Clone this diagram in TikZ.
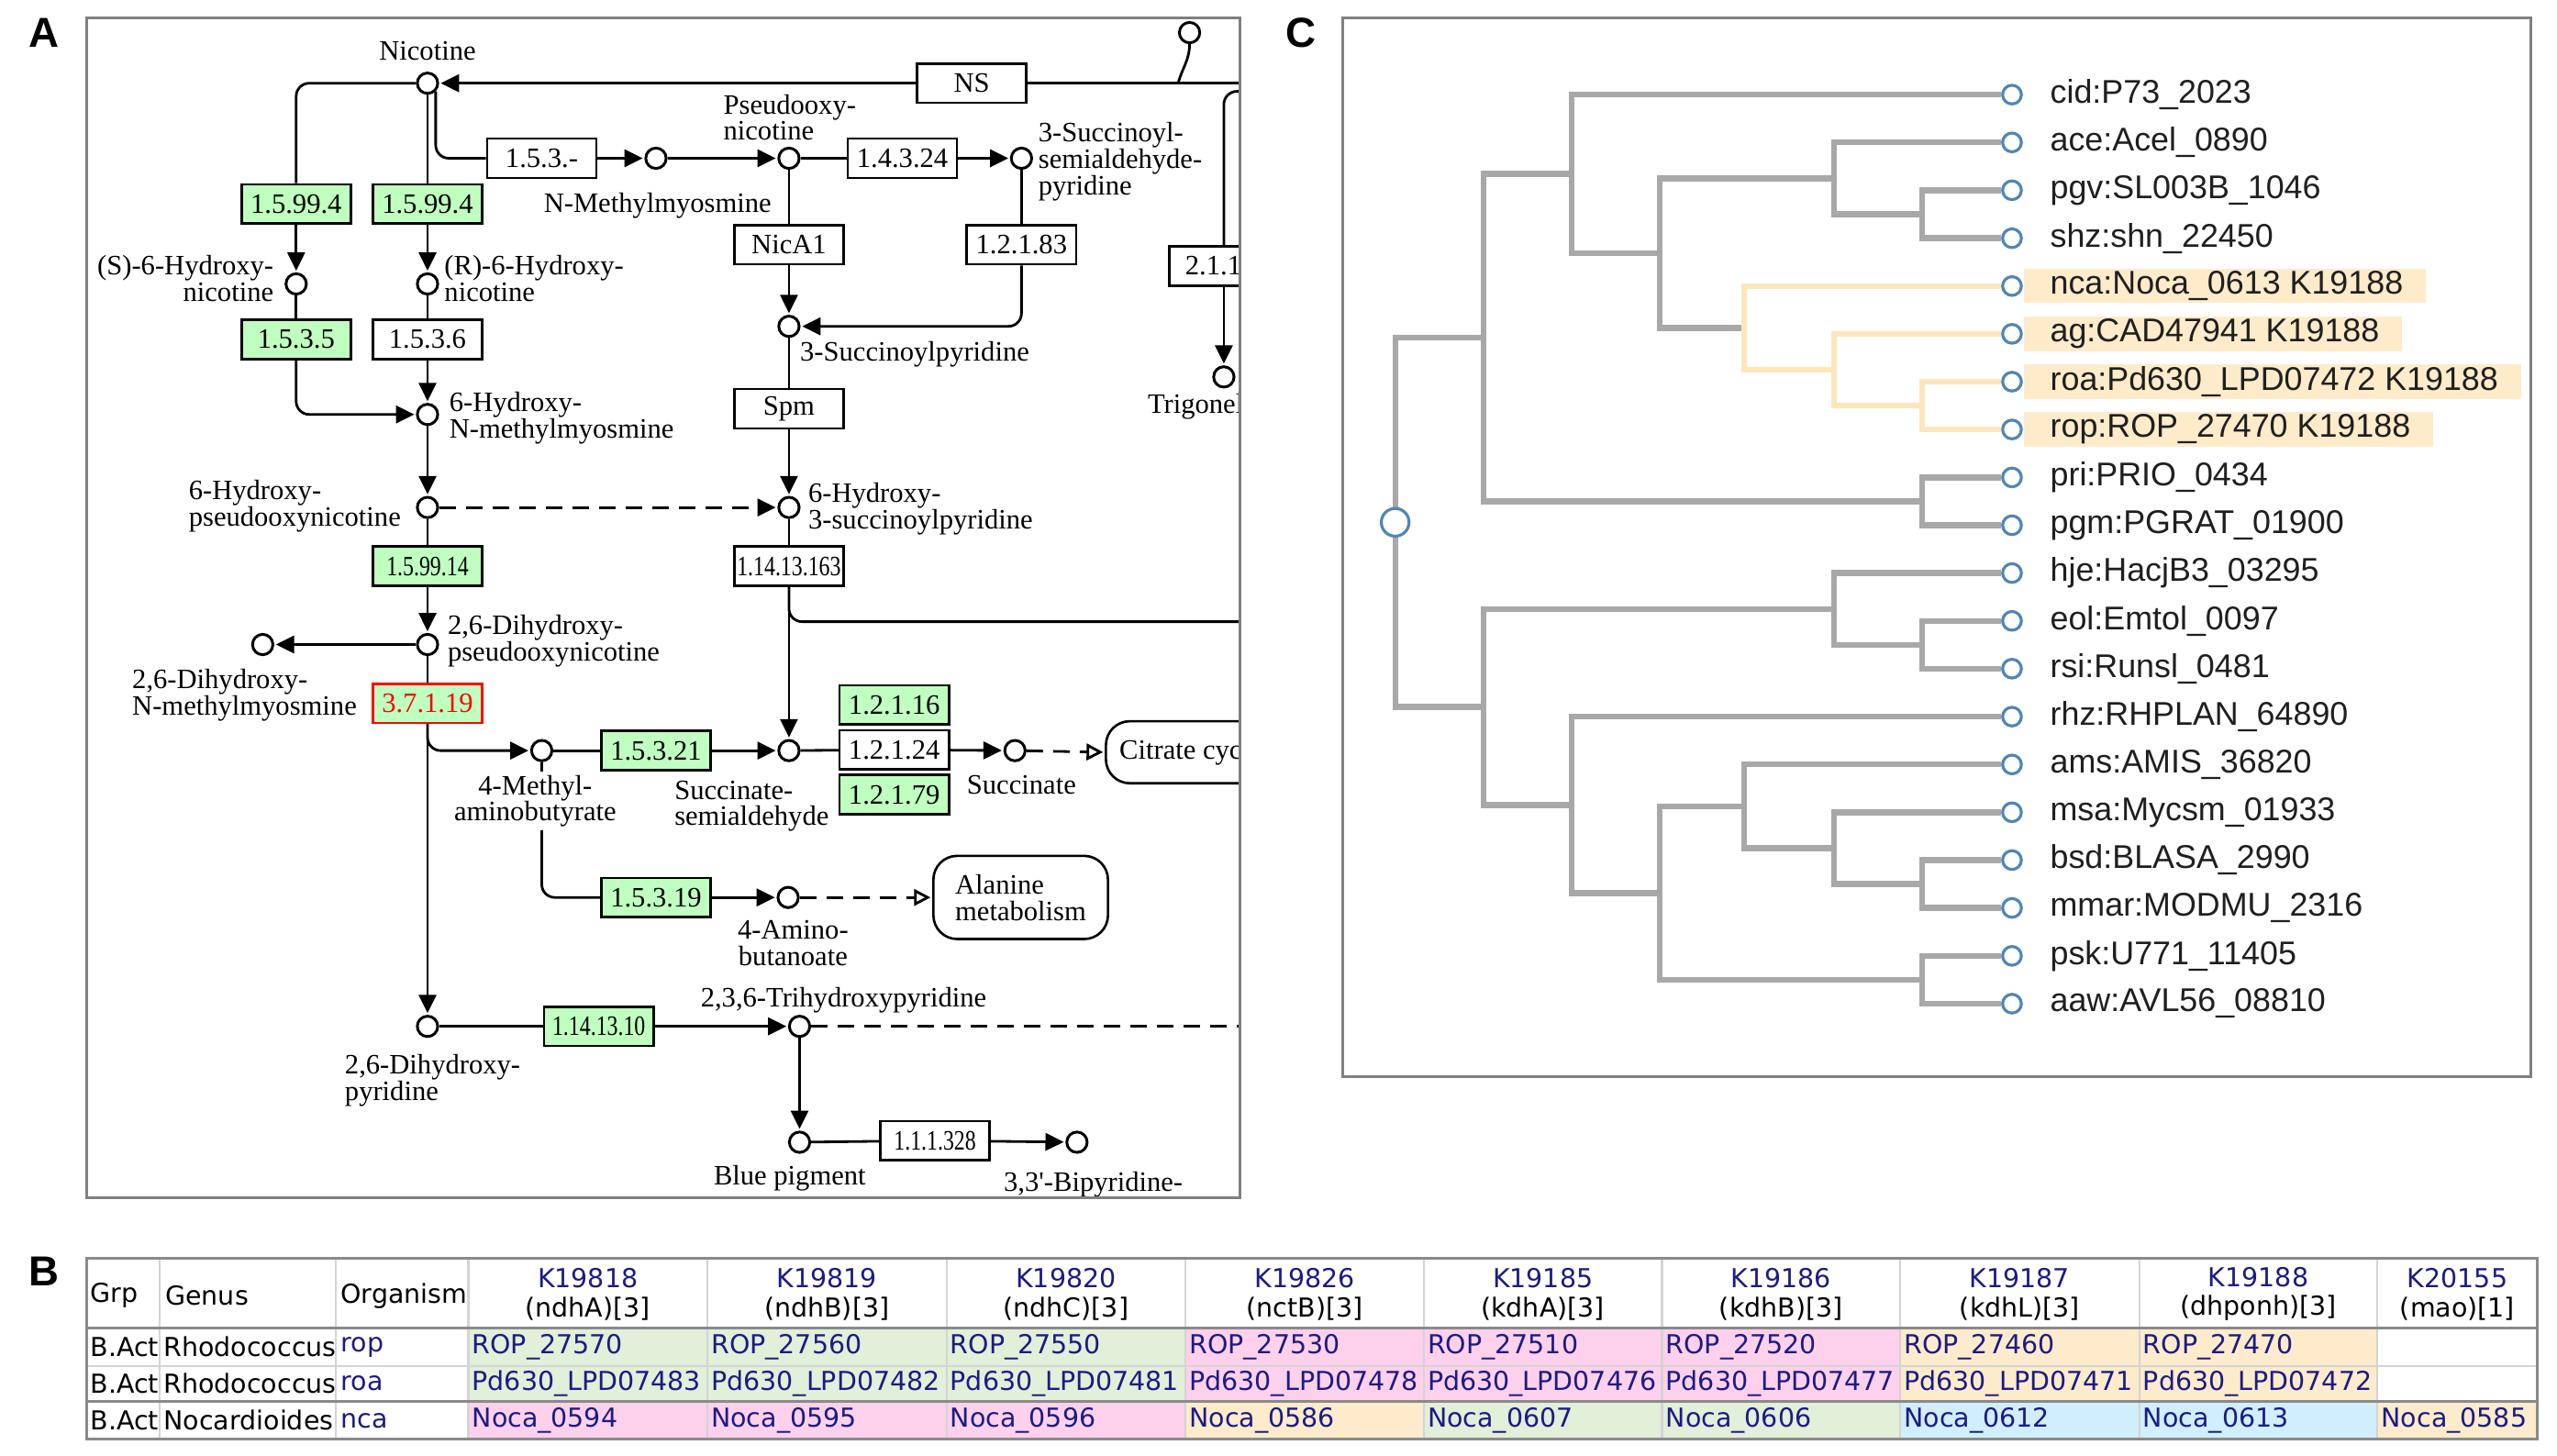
\documentclass[tikz,border=0pt]{standalone}
\usepackage{fontspec}
\usepackage{graphicx}
\setmainfont{Liberation Serif}
\newfontfamily\pathfont{Liberation Serif}
\newfontfamily\treefont{Liberation Sans}
\newfontfamily\tabfont{DejaVu Sans}
\usetikzlibrary{arrows.meta}
\newlength\uu
\setlength\uu{0.17786mm}
\definecolor{kgreen}{HTML}{BFFFBF}
\definecolor{kred}{HTML}{FF0000}
\definecolor{pgray}{HTML}{808080}
\definecolor{treegray}{HTML}{A8A8A8}
\definecolor{treeor}{HTML}{FCE7BC}
\definecolor{hlor}{HTML}{FDEBCA}
\definecolor{leafblue}{HTML}{4F86B9}
\definecolor{tgreen}{HTML}{E2EFD9}
\definecolor{tpink}{HTML}{FDD0EB}
\definecolor{tor}{HTML}{FDEBCB}
\definecolor{tblue}{HTML}{D0EEFB}
\definecolor{navy}{HTML}{1B1B84}
\definecolor{tline}{HTML}{D4D4D4}
\definecolor{tdark}{HTML}{8A8A8A}
\newcommand\pathfs{\pathfont\fontsize{8.7pt}{8.2pt}\selectfont}
\newcommand\treefs{\treefont\fontsize{10.2pt}{12pt}\selectfont}
\newcommand\tabfs{\tabfont\fontsize{8.1pt}{9.1pt}\selectfont}
\newcommand\leaflab[1]{\hspace*{2.85mm}#1\hspace*{2.5mm}}
\newcommand\sqz[1]{\scalebox{0.78}[1]{#1}}
\tikzset{
 met/.style={circle, draw, fill=white, line width=0.85pt, minimum size=12.5\uu, inner sep=0pt},
 enz/.style={rectangle, draw, fill=white, line width=0.75pt, minimum width=67\uu, minimum height=24\uu, inner sep=0pt, font=\pathfs},
 genz/.style={enz, fill=kgreen},
 ptxt/.style={inner sep=0pt, font=\pathfs},
 rx/.style={line width=0.8pt},
 ar/.style={rx, -{Triangle[length=2mm,width=1.9mm]}, shorten >=0.5pt},
 dsh/.style={rx, dash pattern=on 1.8mm off 1.1mm},
 dar/.style={dsh, -{Triangle[length=2mm,width=1.9mm]}, shorten >=0.5pt},
 oar/.style={dsh, -{Triangle[open,length=1.8mm,width=1.8mm]}, shorten >=0.5pt},
 mapbox/.style={draw, line width=0.75pt, rounded corners=2.6mm, inner sep=0pt, font=\pathfs},
 panel/.style={draw=pgray, line width=0.9pt},
 plab/.style={font=\treefont\bfseries\fontsize{13pt}{13pt}\selectfont, inner sep=0pt},
 tree/.style={draw=treegray, line width=1.8pt},
 otree/.style={draw=treeor, line width=1.8pt},
 leaf/.style={circle, draw=leafblue, fill=white, line width=0.9pt, minimum size=11.5\uu, inner sep=0pt},
 rootc/.style={circle, draw=leafblue, fill=white, line width=0.9pt, minimum size=17\uu, inner sep=0pt},
 tlab/.style={anchor=west, inner sep=0pt, minimum height=21\uu, font=\treefs, text=black!88},
 hlab/.style={tlab, fill=hlor},
 ttx/.style={anchor=west, inner sep=0pt, font=\tabfs},
 thd/.style={inner sep=0pt, font=\tabfs, align=center},
}
\begin{document}
\begin{tikzpicture}[x=0.17786mm, y=-0.17786mm]
\useasboundingbox (0,0) rectangle (1567,892.3);
\fill[white] (0,0) rectangle (1567,892.3);

% ---------------- Panel labels
\node[plab] (pA) at (27,20) {A};
\node[plab] (pB) at (27,779) {B};
\node[plab] (pC) at (797,20) {C};

% ---------------- Panel A
\begin{scope}
\clip (53,11) rectangle (760,734);
\node[met] (nic) at (262,51) {};
\node[ptxt] (nicL) at (262,31) {Nicotine};
\node[enz] (ns) at (595.5,51) {NS};
\node[met] (topc) at (729,20) {};
\coordinate (nsR) at (780,51);
\coordinate (nsJ) at (722,51);
\node[genz] (e1) at (181.5,125) {1.5.99.4};
\node[genz] (e3) at (262,125) {1.5.99.4};
\node[met] (shn) at (181.5,174) {};
\node[ptxt, anchor=east, align=right] (shnL) at (168,170.5) {(S)-6-Hydroxy-\\nicotine};
\node[met] (rhn) at (262,174) {};
\node[ptxt, anchor=west, align=left] (rhnL) at (272,170.5) {(R)-6-Hydroxy-\\nicotine};
\node[genz] (e2) at (181.5,208) {1.5.3.5};
\node[enz] (e4) at (262,208) {1.5.3.6};
\node[met] (hnm) at (262,254) {};
\node[ptxt, anchor=west, align=left] (hnmL) at (275,256) {6-Hydroxy-\\N-methylmyosmine};
\node[enz] (e153) at (332,97) {1.5.3.-};
\node[met] (nmm) at (402,97) {};
\node[ptxt] (nmmL) at (403,126) {N-Methylmyosmine};
\node[met] (pon) at (483.5,97) {};
\node[ptxt, anchor=west, align=left] (ponL) at (443,72) {Pseudooxy-\\nicotine};
\node[enz] (e1432) at (553,97) {1.4.3.24};
\node[met] (ssp) at (626,97) {};
\node[ptxt, anchor=west, align=left] (sspL) at (636,99) {3-Succinoyl-\\semialdehyde-\\pyridine};
\node[enz] (nica) at (483.5,150) {NicA1};
\node[enz] (e12183) at (626,150) {1.2.1.83};
\node[met] (sp) at (483.5,200) {};
\node[ptxt, anchor=west] (spL) at (490,217) {3-Succinoylpyridine};
\node[enz] (spm) at (483.5,250.5) {Spm};
\node[met] (hsp) at (483.5,311) {};
\node[ptxt, anchor=west, align=left] (hspL) at (495,312) {6-Hydroxy-\\3-succinoylpyridine};
\node[met] (hpon) at (262,311) {};
\node[ptxt, anchor=east, align=left] (hponL) at (246,310) {6-Hydroxy-\\pseudooxynicotine};
\node[genz] (e159914) at (262,347) {\sqz{1.5.99.14}};
\node[enz] (e1413163) at (483.5,347) {\sqz{1.14.13.163}};
\node[met] (dhpon) at (262,395) {};
\node[ptxt, anchor=west, align=left] (dhponL) at (274,393) {2,6-Dihydroxy-\\pseudooxynicotine};
\node[met] (dhnm) at (161,395) {};
\node[ptxt, anchor=east, align=left] (dhnmL) at (219,426) {2,6-Dihydroxy-\\N-methylmyosmine};
\node[genz, draw=kred, text=kred] (e37119) at (262,431) {3.7.1.19};
\node[met] (mab) at (332,460) {};
\node[genz] (e15321) at (402,460) {1.5.3.21};
\node[met] (ssa) at (483.5,460) {};
\node[ptxt, anchor=west, align=left] (ssaL) at (413,494) {Succinate-\\semialdehyde};
\node[genz] (e12116) at (548,432) {1.2.1.16};
\node[enz] (e12124) at (548,459.5) {1.2.1.24};
\node[genz] (e12179) at (548,487) {1.2.1.79};
\node[met] (suc) at (622,460) {};
\node[ptxt] (sucL) at (626,481) {Succinate};
\node[mapbox, anchor=west, minimum width=104\uu, minimum height=38\uu] (tca) at (677,461) {Citrate cycle};
\node[genz] (e15319) at (402,550) {1.5.3.19};
\node[met] (amb) at (483,550) {};
\node[ptxt, align=center] (ambL) at (486,578) {4-Amino-\\butanoate};
\node[mapbox, minimum width=107\uu, minimum height=51\uu, align=left] (ala) at (625.5,550) {Alanine\\metabolism};
\node[met] (dhp) at (262,629) {};
\node[ptxt, anchor=west, align=left] (dhpL) at (211,662) {2,6-Dihydroxy-\\pyridine};
\node[genz] (e1141310) at (367,629) {\sqz{1.14.13.10}};
\node[met] (thp) at (490,629) {};
\node[ptxt] (thpL) at (517,613) {2,3,6-Trihydroxypyridine};
\coordinate (thpR) at (780,629);
\node[met] (bp) at (490,700) {};
\node[ptxt] (bpL) at (484,722) {Blue pigment};
\node[enz] (e111328) at (573,699) {\sqz{1.1.1.328}};
\node[met] (bip) at (660,700) {};
\node[ptxt] (bipL) at (670,726) {3,3'-Bipyridine-};
\node[enz] (e211) at (750,163) {2.1.1.7};
\node[met] (trig) at (750,231) {};
\node[ptxt, anchor=west] (trigL) at (703,249) {Trigonelline};
\coordinate (rtop) at (780,56);
\coordinate (r380) at (780,381);

\draw[rx] (nsR) -- (ns.east);
\draw[ar] (ns.west) -- (nic.east);
\draw[rx] (topc.south) to[out=-90,in=75] (nsJ);
\draw[rx, rounded corners=8\uu] (nic.west) -| (e1.north);
\draw[ar] (e1) -- (shn);
\draw[rx] (shn) -- (e2);
\draw[ar, rounded corners=8\uu] (e2.south) |- (hnm.west);
\draw[rx] (nic) -- (e3);
\draw[ar] (e3) -- (rhn);
\draw[rx] (rhn) -- (e4);
\draw[ar] (e4) -- (hnm);
\draw[rx, rounded corners=8\uu] (nic.-45) |- (e153.west);
\draw[ar] (e153) -- (nmm);
\draw[ar] (nmm) -- (pon);
\draw[rx] (pon) -- (e1432);
\draw[ar] (e1432) -- (ssp);
\draw[rx] (pon) -- (nica);
\draw[ar] (nica) -- (sp);
\draw[rx] (ssp) -- (e12183);
\draw[ar, rounded corners=8\uu] (e12183.south) |- (sp.east);
\draw[rx] (sp) -- (spm);
\draw[ar] (spm) -- (hsp);
\draw[ar] (hnm) -- (hpon);
\draw[dar] (hpon) -- (hsp);
\draw[rx] (hpon) -- (e159914);
\draw[ar] (e159914) -- (dhpon);
\draw[ar] (dhpon) -- (dhnm);
\draw[rx] (dhpon) -- (e37119);
\draw[ar] (e37119) -- (dhp);
\draw[ar, rounded corners=8\uu] (e37119.south) |- (mab.west);
\draw[rx] (mab) -- (e15321);
\draw[ar] (e15321) -- (ssa);
\draw[rx] (hsp) -- (e1413163);
\draw[ar] (e1413163) -- (ssa);
\draw[rx, rounded corners=8\uu] (e1413163.south) |- (r380);
\draw[rx] (ssa) -- (e12124);
\draw[ar] (e12124) -- (suc);
\draw[oar] (suc) -- (tca.west);
\draw[rx, rounded corners=8\uu] (mab.south) |- (e15319.west);
\draw[ar] (e15319) -- (amb);
\draw[oar] (amb) -- (ala);
\draw[rx] (dhp) -- (e1141310);
\draw[ar] (e1141310) -- (thp);
\draw[dsh] (thp) -- (thpR);
\draw[ar] (thp) -- (bp);
\draw[rx] (bp) -- (e111328);
\draw[ar] (e111328) -- (bip);
\draw[rx, rounded corners=8\uu] (rtop) -| (e211.north);
\draw[ar] (e211) -- (trig);
\node[ptxt, fill=white, inner sep=1pt, align=center] (mabL) at (328,491) {4-Methyl-\\aminobutyrate};
\end{scope}
\draw[panel] (53,11) rectangle (760,734);

% ---------------- Panel C
\draw[panel] (823,11) rectangle (1551,660);
\foreach \y [count=\n] in {58,87.3,116.6,146,175.3,204.6,233.9,263.2,292.6,321.9,351.2,380.5,409.8,439.2,468.5,497.8,527.1,556.4,585.8,615.1}
  \node[leaf] (l\n) at (1233,\y) {};
\node[tlab] (t1) at (1240,58) {\leaflab{cid:P73\_2023}};
\node[tlab] (t2) at (1240,87.3) {\leaflab{ace:Acel\_0890}};
\node[tlab] (t3) at (1240,116.6) {\leaflab{pgv:SL003B\_1046}};
\node[tlab] (t4) at (1240,146) {\leaflab{shz:shn\_22450}};
\node[hlab] (t5) at (1240,175.3) {\leaflab{nca:Noca\_0613 K19188}};
\node[hlab] (t6) at (1240,204.6) {\leaflab{ag:CAD47941 K19188}};
\node[hlab] (t7) at (1240,233.9) {\leaflab{roa:Pd630\_LPD07472 K19188}};
\node[hlab] (t8) at (1240,263.2) {\leaflab{rop:ROP\_27470 K19188}};
\node[tlab] (t9) at (1240,292.6) {\leaflab{pri:PRIO\_0434}};
\node[tlab] (t10) at (1240,321.9) {\leaflab{pgm:PGRAT\_01900}};
\node[tlab] (t11) at (1240,351.2) {\leaflab{hje:HacjB3\_03295}};
\node[tlab] (t12) at (1240,380.5) {\leaflab{eol:Emtol\_0097}};
\node[tlab] (t13) at (1240,409.8) {\leaflab{rsi:Runsl\_0481}};
\node[tlab] (t14) at (1240,439.2) {\leaflab{rhz:RHPLAN\_64890}};
\node[tlab] (t15) at (1240,468.5) {\leaflab{ams:AMIS\_36820}};
\node[tlab] (t16) at (1240,497.8) {\leaflab{msa:Mycsm\_01933}};
\node[tlab] (t17) at (1240,527.1) {\leaflab{bsd:BLASA\_2990}};
\node[tlab] (t18) at (1240,556.4) {\leaflab{mmar:MODMU\_2316}};
\node[tlab] (t19) at (1240,585.8) {\leaflab{psk:U771\_11405}};
\node[tlab] (t20) at (1240,615.1) {\leaflab{aaw:AVL56\_08810}};

\coordinate (rc) at (855,320.1);
\coordinate (T) at (909,207);
\coordinate (T1) at (963,106.6);
\coordinate (T1b) at (1017,155.1);
\coordinate (T1c) at (1124,109.3);
\coordinate (T1d) at (1178,131.3);
\coordinate (O) at (1069,201);
\coordinate (O2) at (1124,226.6);
\coordinate (O3) at (1178,248.5);
\coordinate (T2) at (1178,307.3);
\coordinate (B) at (909,433.2);
\coordinate (B1) at (1124,373.2);
\coordinate (B1b) at (1178,395.2);
\coordinate (B2) at (963,493.3);
\coordinate (B3) at (1017,547.3);
\coordinate (B4) at (1069,494.2);
\coordinate (B6) at (1124,519.8);
\coordinate (B7) at (1178,541.8);
\coordinate (B5) at (1178,600.5);

\draw[tree] (rc) |- (T);
\draw[tree] (rc) |- (B);
\draw[tree] (T) |- (T1);
\draw[tree] (T) |- (T2);
\draw[tree] (T1) |- (l1.west);
\draw[tree] (T1) |- (T1b);
\draw[tree] (T1b) |- (T1c);
\draw[tree] (T1b) |- (O);
\draw[tree] (T1c) |- (l2.west);
\draw[tree] (T1c) |- (T1d);
\draw[tree] (T1d) |- (l3.west);
\draw[tree] (T1d) |- (l4.west);
\draw[otree] (O) |- (l5.west);
\draw[otree] (O) |- (O2);
\draw[otree] (O2) |- (l6.west);
\draw[otree] (O2) |- (O3);
\draw[otree] (O3) |- (l7.west);
\draw[otree] (O3) |- (l8.west);
\draw[tree] (T2) |- (l9.west);
\draw[tree] (T2) |- (l10.west);
\draw[tree] (B) |- (B1);
\draw[tree] (B) |- (B2);
\draw[tree] (B1) |- (l11.west);
\draw[tree] (B1) |- (B1b);
\draw[tree] (B1b) |- (l12.west);
\draw[tree] (B1b) |- (l13.west);
\draw[tree] (B2) |- (l14.west);
\draw[tree] (B2) |- (B3);
\draw[tree] (B3) |- (B4);
\draw[tree] (B3) |- (B5);
\draw[tree] (B4) |- (l15.west);
\draw[tree] (B4) |- (B6);
\draw[tree] (B6) |- (l16.west);
\draw[tree] (B6) |- (B7);
\draw[tree] (B7) |- (l17.west);
\draw[tree] (B7) |- (l18.west);
\draw[tree] (B5) |- (l19.west);
\draw[tree] (B5) |- (l20.west);
\node[rootc] (root) at (rc) {};

% ---------------- Panel B (table)
\fill[tgreen] (287,814) rectangle (726.5,859);
\fill[tpink] (726.5,814) rectangle (1164.5,859);
\fill[tor] (1164.5,814) rectangle (1457,859);
\fill[tpink] (287,859) rectangle (726.5,882);
\fill[tor] (726.5,859) rectangle (872.5,882);
\fill[tgreen] (872.5,859) rectangle (1164.5,882);
\fill[tblue] (1164.5,859) rectangle (1457,882);
\fill[tor] (1457,859) rectangle (1555,882);
\foreach \x in {98,206,287,433.5,580,726.5,872.5,1018.5,1164.5,1311,1457}
  \draw[tline, line width=0.6pt] (\x,771) -- (\x,882);
\draw[tline, line width=0.6pt] (53,837) -- (1555,837);
\draw[tdark, line width=0.9pt] (53,814) -- (1555,814);
\draw[tdark, line width=0.9pt] (53,859) -- (1555,859);
\draw[tdark, line width=1pt] (53,771) rectangle (1555,882);

\node[ttx] (hgrp) at (55,794) {Grp};
\node[ttx] (hgen) at (101,794) {Genus};
\node[ttx] (horg) at (208.5,794) {Organism};
\foreach \cx/\k/\g [count=\i] in {360.25/K19818/{(ndhA)[3]}, 506.75/K19819/{(ndhB)[3]}, 653.25/K19820/{(ndhC)[3]}, 799.5/K19826/{(nctB)[3]}, 945.5/K19185/{(kdhA)[3]}, 1091.5/K19186/{(kdhB)[3]}, 1237.75/K19187/{(kdhL)[3]}, 1384/K19188/{(dhponh)[3]}, 1506/K20155/{(mao)[1]}}
  \node[thd] (hk\i) at (\cx,793) {\textcolor{navy}{\k}\\\g};

\foreach \yy/\gn/\org [count=\r] in {825.5/Rhodococcus/rop, 848/Rhodococcus/roa, 870.5/Nocardioides/nca}{
  \node[ttx] (grp\r) at (55,\yy) {B.Act};
  \node[ttx] (gen\r) at (100,\yy) {\gn};
  \node[ttx, text=navy] (org\r) at (208.5,\yy) {\org};
}
\foreach \x/\t [count=\i] in {289/ROP\_27570, 435.5/ROP\_27560, 582/ROP\_27550, 728.5/ROP\_27530, 874.5/ROP\_27510, 1020.5/ROP\_27520, 1166.5/ROP\_27460, 1313/ROP\_27470}
  \node[ttx, text=navy] (ra\i) at (\x,825.5) {\t};
\foreach \x/\t [count=\i] in {289/Pd630\_LPD07483, 435.5/Pd630\_LPD07482, 582/Pd630\_LPD07481, 728.5/Pd630\_LPD07478, 874.5/Pd630\_LPD07476, 1020.5/Pd630\_LPD07477, 1166.5/Pd630\_LPD07471, 1313/Pd630\_LPD07472}
  \node[ttx, text=navy] (rb\i) at (\x,848) {\t};
\foreach \x/\t [count=\i] in {289/Noca\_0594, 435.5/Noca\_0595, 582/Noca\_0596, 728.5/Noca\_0586, 874.5/Noca\_0607, 1020.5/Noca\_0606, 1166.5/Noca\_0612, 1313/Noca\_0613, 1459/Noca\_0585}
  \node[ttx, text=navy] (rc\i) at (\x,870.5) {\t};
\end{tikzpicture}
\end{document}
